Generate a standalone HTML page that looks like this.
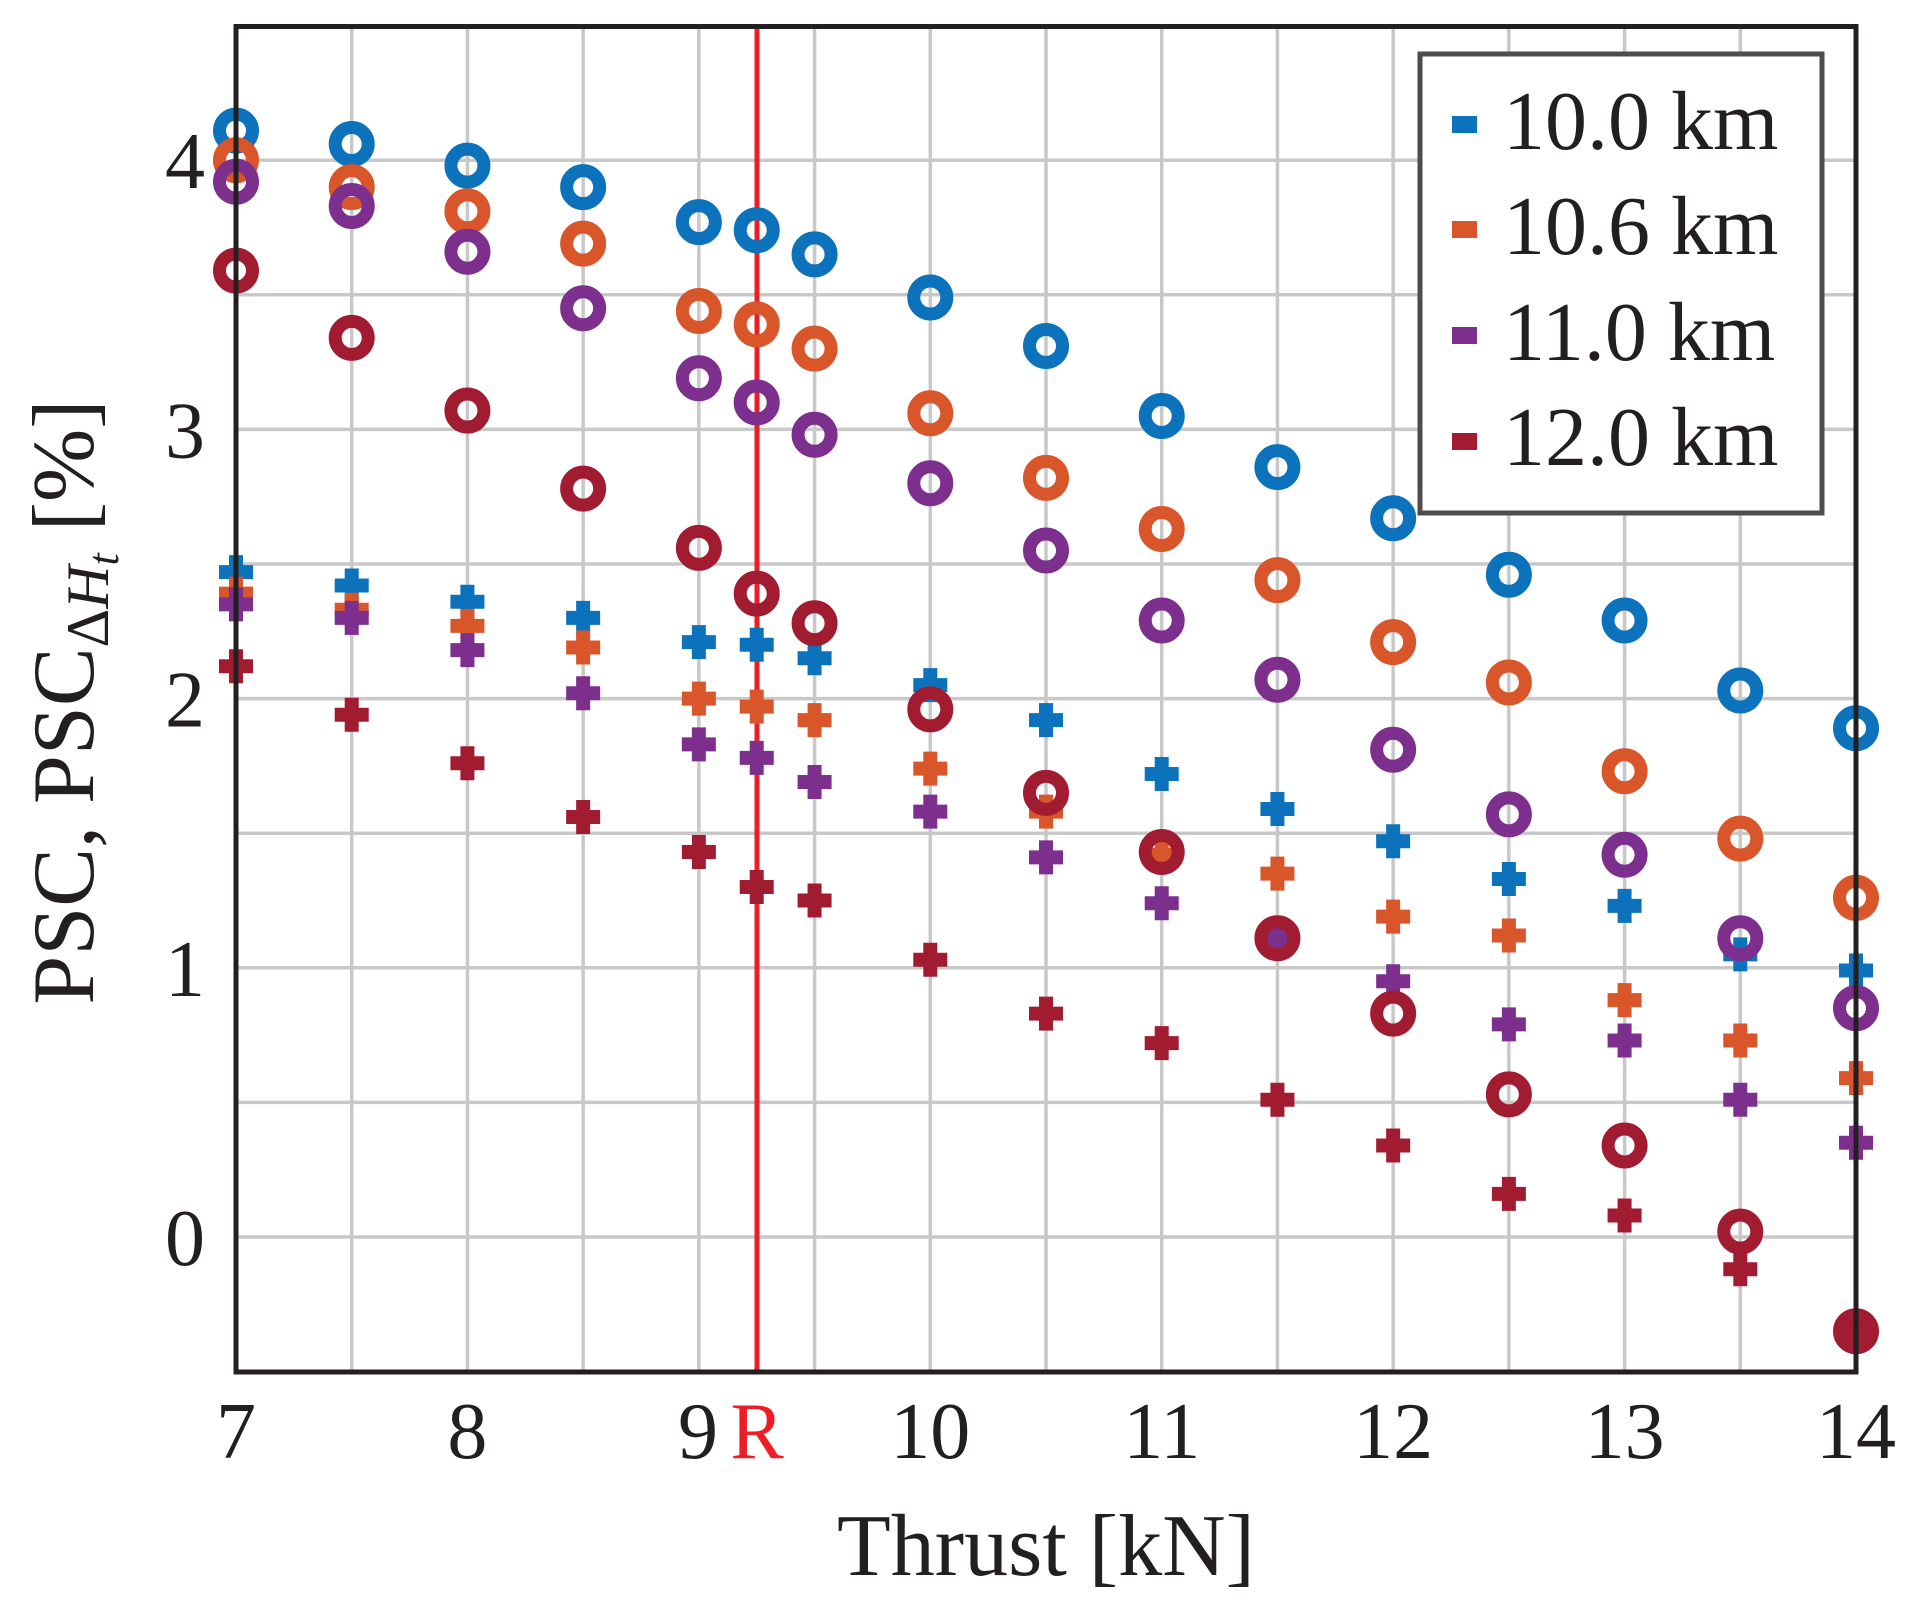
<!DOCTYPE html>
<html><head><meta charset="utf-8"><style>
html,body{margin:0;padding:0;background:#fff;}
svg{display:block;}
text{font-family:"Liberation Serif",serif;fill:#231f20;}
</style></head><body>
<svg id="s" width="1912" height="1610" viewBox="0 0 1912 1610" xmlns="http://www.w3.org/2000/svg">
<g id="grid" stroke="#c8c8c8" stroke-width="3.5"></g>
<line x1="757" y1="26" x2="757" y2="1372" stroke="#ee1c25" stroke-width="5"/>
<g id="pl"></g>
<g id="ci" fill="none" stroke-width="13"></g>
<rect x="236" y="26.5" width="1620" height="1345.5" fill="none" stroke="#231f20" stroke-width="5"/>
<g font-size="80" text-anchor="end" id="yt"></g>
<g font-size="80" text-anchor="middle" id="xt"></g>
<text x="757" y="1458" font-size="80" text-anchor="middle" style="fill:#ee1c25">R</text>
<text x="1046" y="1575" font-size="88" text-anchor="middle">Thrust [kN]</text>
<text transform="translate(93,702) rotate(-90)" font-size="88" text-anchor="middle">PSC, PSC<tspan font-size="60" dy="15">Δ<tspan font-style="italic">H</tspan><tspan font-size="44" font-style="italic" dy="10">t</tspan></tspan><tspan dy="-25"> [%]</tspan></text>
<rect x="1420" y="54" width="402" height="459" fill="#fff" stroke="#4d4d4d" stroke-width="5"/>
<rect x="1452" y="116" width="25" height="17" fill="#0b72bb"/>
<rect x="1452" y="221" width="25" height="17" fill="#d9552a"/>
<rect x="1452" y="327" width="25" height="17" fill="#7d2f8e"/>
<rect x="1452" y="433" width="25" height="17" fill="#a21c31"/>
<g font-size="84">
<text x="1503" y="149">10.0 km</text>
<text x="1503" y="254">10.6 km</text>
<text x="1503" y="360">11.0 km</text>
<text x="1503" y="465">12.0 km</text>
</g>
</svg>
<script>
var NS="http://www.w3.org/2000/svg";
function X(t){return 236+(t-7)*231.43;}
function Y(v){return 1237+(-v)*269.2;}
function el(p,n,a,txt){var e=document.createElementNS(NS,n);for(var k in a)e.setAttribute(k,a[k]);if(txt!==undefined)e.textContent=txt;document.getElementById(p).appendChild(e);return e;}
for(var t=7.5;t<14;t+=0.5)el("grid","line",{x1:X(t),y1:26,x2:X(t),y2:1372});
for(var v=0;v<=4;v+=0.5)el("grid","line",{x1:236,y1:Y(v),x2:1856,y2:Y(v)});
for(var v=0;v<=4;v++)el("yt","text",{x:205,y:Y(v)+28},String(v));
for(var t=7;t<=14;t++)el("xt","text",{x:(t==9?698:X(t)),y:1458},String(t));
var T=[7,7.5,8,8.5,9,9.25,9.5,10,10.5,11,11.5,12,12.5,13,13.5,14];
var C=["#0b72bb","#d9552a","#7d2f8e","#a21c31"];
var circ=[
[4.11,4.06,3.98,3.90,3.77,3.74,3.65,3.49,3.31,3.05,2.86,2.67,2.46,2.29,2.03,1.89],
[4.00,3.90,3.81,3.69,3.44,3.39,3.30,3.06,2.82,2.63,2.44,2.21,2.06,1.73,1.48,1.26],
[3.92,3.83,3.66,3.45,3.19,3.10,2.98,2.80,2.55,2.29,2.07,1.81,1.57,1.42,1.11,0.85],
[3.59,3.34,3.07,2.78,2.56,2.39,2.28,1.96,1.65,1.43,1.11,0.83,0.53,0.34,0.02,-0.35]];
var plus=[
[2.47,2.42,2.36,2.30,2.21,2.20,2.15,2.05,1.92,1.72,1.59,1.47,1.33,1.23,1.05,0.99],
[2.39,2.33,2.27,2.19,2.00,1.97,1.92,1.74,1.58,1.42,1.35,1.19,1.12,0.88,0.73,0.59],
[2.35,2.30,2.18,2.02,1.83,1.78,1.69,1.58,1.41,1.24,1.11,0.95,0.79,0.73,0.51,0.35],
[2.12,1.94,1.76,1.56,1.43,1.30,1.25,1.03,0.83,0.72,0.51,0.34,0.16,0.08,-0.12,-0.35]];
for(var s=0;s<4;s++)for(var i=0;i<16;i++){var x=X(T[i]),y=Y(plus[s][i]);
 el("pl","path",{d:"M"+(x-17)+" "+(y-7)+"h10v-10h14v10h10v14h-10v10h-14v-10h-10z",fill:C[s]});}
for(var s=0;s<4;s++)for(var i=0;i<16;i++){
 el("ci","circle",{cx:X(T[i]),cy:Y(circ[s][i]),r:16.5,stroke:C[s]});}
</script>
</body></html>
